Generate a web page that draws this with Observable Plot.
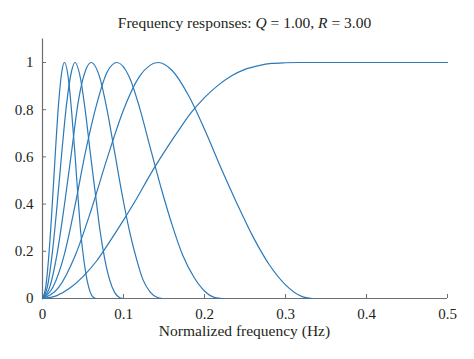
<!DOCTYPE html>
<html>
<head>
<meta charset="utf-8">
<script src="https://cdn.jsdelivr.net/npm/d3@7"></script>
<script src="https://cdn.jsdelivr.net/npm/@observablehq/plot@0.6"></script>
<style>
  html, body { margin: 0; padding: 0; background: #fff; }
  #wrap { position: relative; width: 474px; height: 359px; overflow: hidden; }
  .lbl { position: absolute; font-family: "Liberation Serif", serif; color: #231f20; white-space: nowrap; text-align: center; }
  #title { top: 15px; left: 42px; width: 405px; font-size: 15.5px; line-height: 15.5px; }
  #xlabel { top: 323px; left: 42px; width: 405px; font-size: 15.5px; line-height: 15.5px; }
  #chart svg text { font-family: "Liberation Serif", serif !important; }
</style>
</head>
<body>
<div id="wrap">
  <div id="chart"></div>
  <div id="title" class="lbl">Frequency responses: <i>Q</i> = 1.00, <i>R</i> = 3.00</div>
  <div id="xlabel" class="lbl">Normalized frequency (Hz)</div>
</div>
<script>
// High-pass response (level 1)
const hpFreq = [0, 0.017, 0.033, 0.05, 0.067, 0.083, 0.1, 0.117, 0.133, 0.15, 0.167, 0.183, 0.2, 0.217, 0.233, 0.25, 0.267, 0.283, 0.3, 0.317, 0.333, 0.5];
const hpResp = [0, 0.011, 0.042, 0.093, 0.16, 0.241, 0.332, 0.428, 0.525, 0.619, 0.707, 0.785, 0.851, 0.904, 0.943, 0.971, 0.987, 0.996, 0.999, 1, 1, 1];

// Band-pass responses (levels 2..6)
const bp2Freq = [0, 0.02, 0.04, 0.06, 0.08, 0.1, 0.12, 0.143, 0.16, 0.18, 0.2, 0.222, 0.24, 0.26, 0.28, 0.3, 0.32, 0.333];
const bp2Resp = [0, 0.047, 0.179, 0.374, 0.596, 0.799, 0.942, 1, 0.966, 0.862, 0.717, 0.540, 0.403, 0.261, 0.143, 0.058, 0.009, 0];

const bp3Freq = [0, 0.013, 0.027, 0.04, 0.053, 0.067, 0.08, 0.092, 0.107, 0.12, 0.133, 0.148, 0.16, 0.173, 0.187, 0.2, 0.213, 0.222];
const bp3Resp = [0, 0.049, 0.187, 0.391, 0.620, 0.825, 0.961, 1, 0.940, 0.807, 0.639, 0.449, 0.312, 0.184, 0.090, 0.032, 0.004, 0];

const bp4Freq = [0, 0.009, 0.018, 0.027, 0.036, 0.044, 0.053, 0.06, 0.071, 0.08, 0.089, 0.099, 0.107, 0.116, 0.124, 0.133, 0.142, 0.148];
const bp4Resp = [0, 0.049, 0.189, 0.395, 0.625, 0.831, 0.965, 1, 0.933, 0.794, 0.621, 0.428, 0.292, 0.168, 0.080, 0.027, 0.004, 0];

const bp5Freq = [0, 0.006, 0.012, 0.018, 0.024, 0.03, 0.036, 0.04, 0.047, 0.053, 0.059, 0.066, 0.071, 0.077, 0.083, 0.089, 0.095, 0.099];
const bp5Resp = [0, 0.049, 0.190, 0.395, 0.626, 0.832, 0.965, 1, 0.931, 0.791, 0.617, 0.424, 0.288, 0.165, 0.078, 0.026, 0.004, 0];

const bp6Freq = [0, 0.004, 0.008, 0.012, 0.016, 0.02, 0.024, 0.027, 0.032, 0.036, 0.04, 0.044, 0.047, 0.051, 0.055, 0.059, 0.063, 0.066];
const bp6Resp = [0, 0.049, 0.190, 0.395, 0.626, 0.832, 0.965, 1, 0.931, 0.790, 0.616, 0.423, 0.287, 0.164, 0.078, 0.026, 0.004, 0];

const xTicks = [0, 0.1, 0.2, 0.3, 0.4, 0.5];
const xTickLabels = ["0", "0.1", "0.2", "0.3", "0.4", "0.5"];
const yTicks = [0, 0.2, 0.4, 0.6, 0.8, 1];
const yTickLabels = ["0", "0.2", "0.4", "0.6", "0.8", "1"];

const seriesList = [
  ["hp", hpFreq, hpResp],
  ["bp2", bp2Freq, bp2Resp],
  ["bp3", bp3Freq, bp3Resp],
  ["bp4", bp4Freq, bp4Resp],
  ["bp5", bp5Freq, bp5Resp],
  ["bp6", bp6Freq, bp6Resp]
];
const rows = [];
for (const [name, fs, rs] of seriesList) {
  fs.forEach((f, i) => rows.push({series: name, f, r: rs[i]}));
}

const lineColor = "#2b79b9";
const axisColor = "#6d6e71";
const textColor = "#231f20";
const serif = "Liberation Serif, serif";

const chart = Plot.plot({
  width: 474,
  height: 359,
  marginLeft: 42,
  marginRight: 27,
  marginTop: 38.4,
  marginBottom: 61,
  style: {fontFamily: serif, fontSize: "15px", background: "white", color: textColor},
  x: {domain: [0, 0.5], label: null},
  y: {domain: [0, 1.1], label: null},
  marks: [
    Plot.ruleY([0], {stroke: axisColor, strokeWidth: 1.2}),
    Plot.ruleX([0], {stroke: axisColor, strokeWidth: 1.2}),
    Plot.axisX(xTicks, {tickSize: -4, tickPadding: 14, stroke: axisColor, fill: textColor, fontFamily: serif, fontSize: 15, tickFormat: (d, i) => xTickLabels[i], label: null}),
    Plot.axisY(yTicks, {tickSize: -4, tickPadding: 13, stroke: axisColor, fill: textColor, fontFamily: serif, fontSize: 15, tickFormat: (d, i) => yTickLabels[i], label: null}),
    Plot.line(rows, {x: "f", y: "r", z: "series", stroke: lineColor, strokeWidth: 1.2, curve: "monotone-x"})
  ]
});
document.getElementById("chart").appendChild(chart);
</script>
</body>
</html>
